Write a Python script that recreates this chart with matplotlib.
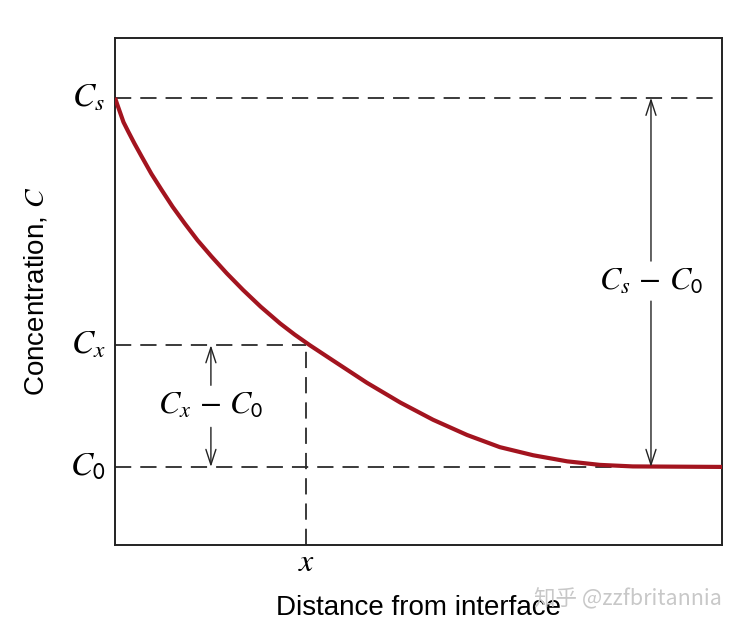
import matplotlib.pyplot as plt

plt.rcParams['mathtext.fontset'] = 'stix'
plt.rcParams['font.family'] = ['Liberation Sans', 'DejaVu Sans']

# curve (normalised distance, normalised concentration)
dist = [0.0, 0.004, 0.009, 0.014, 0.022, 0.032, 0.044, 0.060, 0.077,
        0.095, 0.115, 0.136, 0.159, 0.184, 0.211, 0.240, 0.272, 0.296,
        0.321, 0.359, 0.415, 0.470, 0.524, 0.580, 0.634, 0.689, 0.745,
        0.799, 0.853, 1.0]
conc = [0.882, 0.868, 0.851, 0.834, 0.815, 0.792, 0.766, 0.732, 0.700,
        0.667, 0.634, 0.601, 0.569, 0.536, 0.503, 0.470, 0.437, 0.415,
        0.394, 0.364, 0.320, 0.281, 0.247, 0.217, 0.193, 0.177, 0.165,
        0.158, 0.155, 0.154]

c_s = 0.882
c_x = 0.394
c_0 = 0.154
x_pos = 0.315
arrow_big_x = 0.883
arrow_small_x = 0.158

dash_col = '#2b2b2b'
red = '#a3141f'

fig = plt.figure(figsize=(7.43, 6.30), dpi=100)
ax = fig.add_axes([115 / 743, 85 / 630, 607 / 743, 507 / 630])
ax.set_xlim(0, 1)
ax.set_ylim(0, 1)
ax.set_xticks([])
ax.set_yticks([])
for sp in ax.spines.values():
    sp.set_linewidth(1.4)
    sp.set_color('#222222')


def dashed(xs, ys):
    ln, = ax.plot(xs, ys, color=dash_col, lw=1.3, zorder=2)
    ln.set_dashes((9, 5))


dashed([0, 1], [c_s, c_s])
dashed([0, x_pos], [c_x, c_x])
dashed([0, 0.86], [c_0, c_0])
dashed([x_pos, x_pos], [0, c_x])

ax.plot(dist, conc, color=red, lw=3.0, solid_capstyle='butt',
        solid_joinstyle='round', zorder=3)

aprops = dict(arrowstyle='->,head_length=0.55,head_width=0.18', lw=1.0,
              color='#222222', mutation_scale=20, shrinkA=0, shrinkB=0)

# Cs - C0
ax.annotate('', xy=(arrow_big_x, c_s), xytext=(arrow_big_x, 0.56),
            arrowprops=aprops)
ax.annotate('', xy=(arrow_big_x, c_0), xytext=(arrow_big_x, 0.481),
            arrowprops=aprops)
ax.text(arrow_big_x, 0.519, r'$C_s\,-\,C_\mathsf{0}$', fontsize=23,
        ha='center', va='center')

# Cx - C0
ax.annotate('', xy=(arrow_small_x, c_x), xytext=(arrow_small_x, 0.315),
            arrowprops=aprops)
ax.annotate('', xy=(arrow_small_x, c_0), xytext=(arrow_small_x, 0.232),
            arrowprops=aprops)
ax.text(arrow_small_x, 0.274, r'$C_x\,-\,C_\mathsf{0}$', fontsize=23,
        ha='center', va='center')

# left labels
for val, lab in [(c_s, r'$C_s$'), (c_x, r'$C_x$'), (c_0, r'$C_\mathsf{0}$')]:
    ax.text(-0.016, val, lab, fontsize=24, ha='right', va='center')

ax.text(x_pos, -0.035, r'$x$', fontsize=23, ha='center', va='center')

ax.set_xlabel('Distance from interface', fontsize=20, labelpad=36)
ax.set_ylabel(r'Concentration, $C$', fontsize=20, labelpad=47)

fig.text(0.972, 0.048, '知乎 @zzfbritannia', fontsize=15.5, color='#c8c8c8',
         ha='right', va='center', family=['Noto Sans CJK SC', 'DejaVu Sans'])

fig.savefig('out.png', dpi=100)
